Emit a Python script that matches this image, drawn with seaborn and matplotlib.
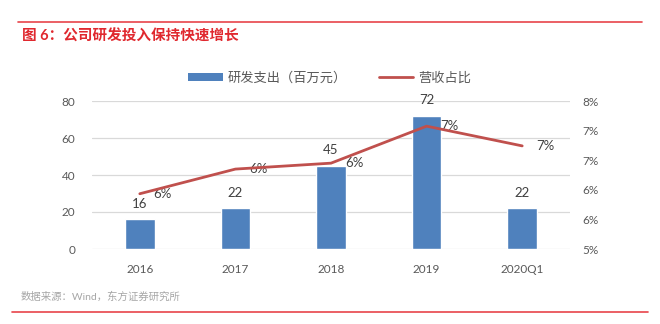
import matplotlib
matplotlib.use("Agg")
import matplotlib.pyplot as plt
import seaborn as sns
import pandas as pd
from matplotlib.lines import Line2D
from matplotlib.patches import Patch
from matplotlib.ticker import FixedLocator, FuncFormatter

# ---- data ----
periods = ["2016", "2017", "2018", "2019", "2020Q1"]
rd_spend = [16, 22, 45, 72, 22]                 # 研发支出（百万元）
rev_ratio = [6.12, 6.62, 6.74, 7.49, 7.09]      # 营收占比 (%)
ratio_labels = ["6%", "6%", "6%", "7%", "7%"]
left_ticks = [0, 20, 40, 60, 80]
right_ticks = [5.0, 5.6, 6.2, 6.8, 7.4, 8.0]

title = "图 6：公司研发投入保持快速增长"
source = "数据来源：Wind，东方证券研究所"
bar_name = "研发支出（百万元）"
line_name = "营收占比"

sns.set_theme(style="white")
plt.rcParams["font.family"] = ["Lato", "Noto Sans CJK SC", "DejaVu Sans"]

blue = "#4F81BD"
red = "#C0504D"
grid_c = "#D9D9D9"
tick_c = "#595959"
lab_c = "#404040"

df = pd.DataFrame({"period": periods, "rd": rd_spend, "ratio": rev_ratio})

fig = plt.figure(figsize=(6.6, 3.24), dpi=100)
ax = fig.add_axes([92 / 660, (324 - 249) / 324, 478 / 660, 148 / 324])

sns.barplot(data=df, x="period", y="rd", ax=ax, color=blue, width=0.31,
            saturation=1, zorder=3)
ax.set_ylim(0, 80)
ax.yaxis.set_major_locator(FixedLocator(left_ticks))
ax.grid(axis="y", color=grid_c, linewidth=0.9, zorder=0)
ax.set_axisbelow(True)
for s in ax.spines.values():
    s.set_visible(False)
ax.set_xlabel("")
ax.set_ylabel("")
ax.tick_params(axis="y", length=0, pad=12, labelsize=8.5, labelcolor=tick_c)
ax.tick_params(axis="x", length=0, pad=11, labelsize=8.5, labelcolor=tick_c)

for i, v in enumerate(rd_spend):
    ax.annotate(f"{v}", (i, v), xytext=(0, 7), textcoords="offset points",
                ha="center", va="bottom", fontsize=9.5, color=lab_c)

ax2 = ax.twinx()
sns.pointplot(data=df, x="period", y="ratio", ax=ax2, color=red,
              markers="", linewidth=2, zorder=4)
ax2.set_ylim(5, 8)
ax2.set_xlim(-0.5, 4.5)
ax.set_xlim(-0.5, 4.5)
ax2.yaxis.set_major_locator(FixedLocator(right_ticks))
ax2.yaxis.set_major_formatter(FuncFormatter(lambda v, p: f"{v:.0f}%"))
ax2.tick_params(axis="y", length=0, pad=9, labelsize=8.5, labelcolor=tick_c)
ax2.set_ylabel("")
ax2.grid(False)
for s in ax2.spines.values():
    s.set_visible(False)

for i, (v, t) in enumerate(zip(rev_ratio, ratio_labels)):
    ax2.annotate(t, (i, v), xytext=(10, 0), textcoords="offset points",
                 ha="left", va="center", fontsize=9.5, color=lab_c)

handles = [Patch(facecolor=blue, edgecolor="none"),
           Line2D([0], [0], color=red, linewidth=2)]
leg = fig.legend(handles, [bar_name, line_name], ncol=2, frameon=False,
                 loc="center", bbox_to_anchor=(330 / 660, 1 - 77 / 324),
                 fontsize=9.5, handlelength=2.6, handleheight=0.55,
                 columnspacing=2.4, handletextpad=0.4)
for t in leg.get_texts():
    t.set_color(tick_c)

fig.text(22 / 660, 1 - 37 / 324, title, fontsize=10.5, fontweight="bold",
         color="#E0282E", ha="left", va="center")
fig.add_artist(Line2D([18 / 660, 642 / 660], [1 - 22 / 324, 1 - 22 / 324],
                      color="#E8444A", linewidth=1.2))
fig.add_artist(Line2D([12 / 660, 648 / 660], [1 - 312 / 324, 1 - 312 / 324],
                      color="#E8444A", linewidth=1.2))
fig.text(21 / 660, 1 - 297 / 324, source, fontsize=7.5, color="#A6A6A6",
         ha="left", va="center")

fig.savefig("out.png", dpi=100)
